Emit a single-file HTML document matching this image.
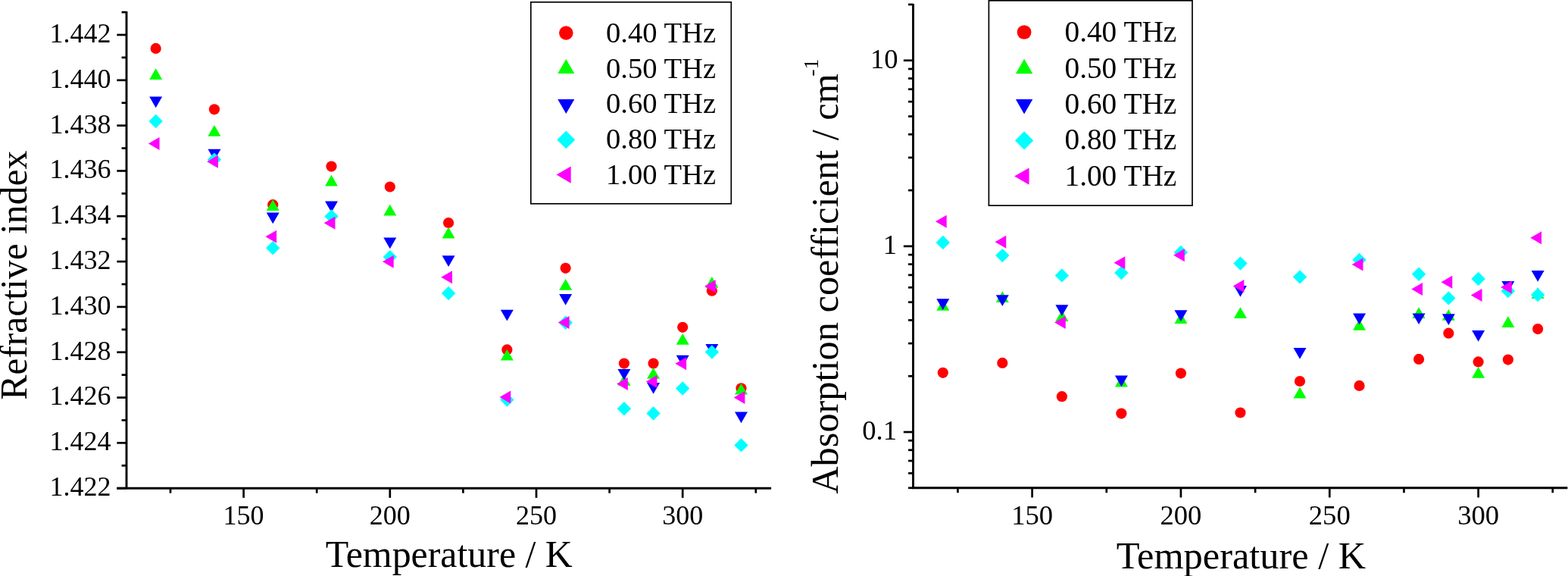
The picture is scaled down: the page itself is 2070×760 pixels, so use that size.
<!DOCTYPE html>
<html><head><meta charset="utf-8"><title>Refractive index and absorption coefficient vs temperature</title>
<style>
html,body{margin:0;padding:0;background:#fff;}
body{width:2070px;height:760px;overflow:hidden;}
svg{display:block;}
text{font-family:"Liberation Serif", "Times New Roman", serif;fill:#000;}
.tk{font-size:36px;}
.tkr{font-size:36.6px;}
.lg{font-size:38.6px;}
.lgr{font-size:39.3px;}
.tt{font-size:49.6px;}
.ttr{font-size:50.4px;}
</style></head>
<body>
<svg width="2070" height="760" viewBox="0 0 2070 760">
<rect width="2070" height="760" fill="#fff"/>
<line x1="167.0" y1="15.100000000000001" x2="167.0" y2="644.2" stroke="#000" stroke-width="2.9"/>
<line x1="154.35000000000002" y1="644.2" x2="1018.1" y2="644.2" stroke="#000" stroke-width="2.9"/>
<line x1="154.35" y1="644.20" x2="167.00" y2="644.20" stroke="#000" stroke-width="2.7"/>
<text x="146.5" y="654.10" text-anchor="end" class="tk">1.422</text>
<line x1="160.55" y1="614.29" x2="167.00" y2="614.29" stroke="#000" stroke-width="2.7"/>
<line x1="154.35" y1="584.38" x2="167.00" y2="584.38" stroke="#000" stroke-width="2.7"/>
<text x="146.5" y="594.28" text-anchor="end" class="tk">1.424</text>
<line x1="160.55" y1="554.47" x2="167.00" y2="554.47" stroke="#000" stroke-width="2.7"/>
<line x1="154.35" y1="524.56" x2="167.00" y2="524.56" stroke="#000" stroke-width="2.7"/>
<text x="146.5" y="534.46" text-anchor="end" class="tk">1.426</text>
<line x1="160.55" y1="494.65" x2="167.00" y2="494.65" stroke="#000" stroke-width="2.7"/>
<line x1="154.35" y1="464.74" x2="167.00" y2="464.74" stroke="#000" stroke-width="2.7"/>
<text x="146.5" y="474.64" text-anchor="end" class="tk">1.428</text>
<line x1="160.55" y1="434.83" x2="167.00" y2="434.83" stroke="#000" stroke-width="2.7"/>
<line x1="154.35" y1="404.92" x2="167.00" y2="404.92" stroke="#000" stroke-width="2.7"/>
<text x="146.5" y="414.82" text-anchor="end" class="tk">1.430</text>
<line x1="160.55" y1="375.01" x2="167.00" y2="375.01" stroke="#000" stroke-width="2.7"/>
<line x1="154.35" y1="345.10" x2="167.00" y2="345.10" stroke="#000" stroke-width="2.7"/>
<text x="146.5" y="355.00" text-anchor="end" class="tk">1.432</text>
<line x1="160.55" y1="315.19" x2="167.00" y2="315.19" stroke="#000" stroke-width="2.7"/>
<line x1="154.35" y1="285.28" x2="167.00" y2="285.28" stroke="#000" stroke-width="2.7"/>
<text x="146.5" y="295.18" text-anchor="end" class="tk">1.434</text>
<line x1="160.55" y1="255.37" x2="167.00" y2="255.37" stroke="#000" stroke-width="2.7"/>
<line x1="154.35" y1="225.46" x2="167.00" y2="225.46" stroke="#000" stroke-width="2.7"/>
<text x="146.5" y="235.36" text-anchor="end" class="tk">1.436</text>
<line x1="160.55" y1="195.55" x2="167.00" y2="195.55" stroke="#000" stroke-width="2.7"/>
<line x1="154.35" y1="165.64" x2="167.00" y2="165.64" stroke="#000" stroke-width="2.7"/>
<text x="146.5" y="175.54" text-anchor="end" class="tk">1.438</text>
<line x1="160.55" y1="135.73" x2="167.00" y2="135.73" stroke="#000" stroke-width="2.7"/>
<line x1="154.35" y1="105.82" x2="167.00" y2="105.82" stroke="#000" stroke-width="2.7"/>
<text x="146.5" y="115.72" text-anchor="end" class="tk">1.440</text>
<line x1="160.55" y1="75.91" x2="167.00" y2="75.91" stroke="#000" stroke-width="2.7"/>
<line x1="154.35" y1="46.00" x2="167.00" y2="46.00" stroke="#000" stroke-width="2.7"/>
<text x="146.5" y="55.90" text-anchor="end" class="tk">1.442</text>
<line x1="160.55" y1="16.09" x2="167.00" y2="16.09" stroke="#000" stroke-width="2.7"/>
<line x1="225.00" y1="644.20" x2="225.00" y2="650.65" stroke="#000" stroke-width="2.7"/>
<line x1="321.60" y1="644.20" x2="321.60" y2="656.85" stroke="#000" stroke-width="2.7"/>
<text x="321.60" y="691.8" text-anchor="middle" class="tk">150</text>
<line x1="418.20" y1="644.20" x2="418.20" y2="650.65" stroke="#000" stroke-width="2.7"/>
<line x1="514.80" y1="644.20" x2="514.80" y2="656.85" stroke="#000" stroke-width="2.7"/>
<text x="514.80" y="691.8" text-anchor="middle" class="tk">200</text>
<line x1="611.40" y1="644.20" x2="611.40" y2="650.65" stroke="#000" stroke-width="2.7"/>
<line x1="708.00" y1="644.20" x2="708.00" y2="656.85" stroke="#000" stroke-width="2.7"/>
<text x="708.00" y="691.8" text-anchor="middle" class="tk">250</text>
<line x1="804.60" y1="644.20" x2="804.60" y2="650.65" stroke="#000" stroke-width="2.7"/>
<line x1="901.20" y1="644.20" x2="901.20" y2="656.85" stroke="#000" stroke-width="2.7"/>
<text x="901.20" y="691.8" text-anchor="middle" class="tk">300</text>
<line x1="997.80" y1="644.20" x2="997.80" y2="650.65" stroke="#000" stroke-width="2.7"/>
<text x="592.8" y="748.3" text-anchor="middle" class="tt" style="font-size:49.9px">Temperature / K</text>
<text transform="translate(35,363.3) rotate(-90)" text-anchor="middle" class="tt">Refractive index</text>
<circle cx="205.68" cy="63.90" r="7.10" fill="#ff0000"/>
<circle cx="282.96" cy="144.30" r="7.10" fill="#ff0000"/>
<circle cx="360.24" cy="270.20" r="7.10" fill="#ff0000"/>
<circle cx="437.52" cy="219.60" r="7.10" fill="#ff0000"/>
<circle cx="514.80" cy="246.50" r="7.10" fill="#ff0000"/>
<circle cx="592.08" cy="294.00" r="7.10" fill="#ff0000"/>
<circle cx="669.36" cy="461.40" r="7.10" fill="#ff0000"/>
<circle cx="746.64" cy="353.80" r="7.10" fill="#ff0000"/>
<circle cx="823.92" cy="479.60" r="7.10" fill="#ff0000"/>
<circle cx="862.56" cy="479.60" r="7.10" fill="#ff0000"/>
<circle cx="901.20" cy="431.80" r="7.10" fill="#ff0000"/>
<circle cx="939.84" cy="383.70" r="7.10" fill="#ff0000"/>
<circle cx="978.48" cy="512.30" r="7.10" fill="#ff0000"/>
<polygon points="205.68,90.30 214.17,105.00 197.19,105.00" fill="#00ff00"/>
<polygon points="282.96,165.00 291.45,179.70 274.47,179.70" fill="#00ff00"/>
<polygon points="360.24,263.40 368.73,278.10 351.75,278.10" fill="#00ff00"/>
<polygon points="437.52,230.80 446.01,245.50 429.03,245.50" fill="#00ff00"/>
<polygon points="514.80,269.80 523.29,284.50 506.31,284.50" fill="#00ff00"/>
<polygon points="592.08,299.80 600.57,314.50 583.59,314.50" fill="#00ff00"/>
<polygon points="669.36,460.90 677.85,475.60 660.87,475.60" fill="#00ff00"/>
<polygon points="746.64,368.00 755.13,382.70 738.15,382.70" fill="#00ff00"/>
<polygon points="823.92,494.00 832.41,508.70 815.43,508.70" fill="#00ff00"/>
<polygon points="862.56,485.10 871.05,499.80 854.07,499.80" fill="#00ff00"/>
<polygon points="901.20,440.10 909.69,454.80 892.71,454.80" fill="#00ff00"/>
<polygon points="939.84,365.10 948.33,379.80 931.35,379.80" fill="#00ff00"/>
<polygon points="978.48,505.90 986.97,520.60 969.99,520.60" fill="#00ff00"/>
<polygon points="205.68,142.30 197.19,127.60 214.17,127.60" fill="#0000ff"/>
<polygon points="282.96,211.50 274.47,196.80 291.45,196.80" fill="#0000ff"/>
<polygon points="360.24,295.20 351.75,280.50 368.73,280.50" fill="#0000ff"/>
<polygon points="437.52,280.20 429.03,265.50 446.01,265.50" fill="#0000ff"/>
<polygon points="514.80,328.20 506.31,313.50 523.29,313.50" fill="#0000ff"/>
<polygon points="592.08,351.90 583.59,337.20 600.57,337.20" fill="#0000ff"/>
<polygon points="669.36,423.40 660.87,408.70 677.85,408.70" fill="#0000ff"/>
<polygon points="746.64,402.70 738.15,388.00 755.13,388.00" fill="#0000ff"/>
<polygon points="823.92,501.60 815.43,486.90 832.41,486.90" fill="#0000ff"/>
<polygon points="862.56,519.70 854.07,505.00 871.05,505.00" fill="#0000ff"/>
<polygon points="901.20,483.40 892.71,468.70 909.69,468.70" fill="#0000ff"/>
<polygon points="939.84,468.60 931.35,453.90 948.33,453.90" fill="#0000ff"/>
<polygon points="978.48,558.20 969.99,543.50 986.97,543.50" fill="#0000ff"/>
<polygon points="205.68,150.80 214.88,160.00 205.68,169.20 196.48,160.00" fill="#00ffff"/>
<polygon points="282.96,201.40 292.16,210.60 282.96,219.80 273.76,210.60" fill="#00ffff"/>
<polygon points="360.24,318.10 369.44,327.30 360.24,336.50 351.04,327.30" fill="#00ffff"/>
<polygon points="437.52,276.30 446.72,285.50 437.52,294.70 428.32,285.50" fill="#00ffff"/>
<polygon points="514.80,329.90 524.00,339.10 514.80,348.30 505.60,339.10" fill="#00ffff"/>
<polygon points="592.08,377.80 601.28,387.00 592.08,396.20 582.88,387.00" fill="#00ffff"/>
<polygon points="669.36,518.40 678.56,527.60 669.36,536.80 660.16,527.60" fill="#00ffff"/>
<polygon points="746.64,416.50 755.84,425.70 746.64,434.90 737.44,425.70" fill="#00ffff"/>
<polygon points="823.92,530.00 833.12,539.20 823.92,548.40 814.72,539.20" fill="#00ffff"/>
<polygon points="862.56,536.30 871.76,545.50 862.56,554.70 853.36,545.50" fill="#00ffff"/>
<polygon points="901.20,503.30 910.40,512.50 901.20,521.70 892.00,512.50" fill="#00ffff"/>
<polygon points="939.84,455.30 949.04,464.50 939.84,473.70 930.64,464.50" fill="#00ffff"/>
<polygon points="978.48,578.20 987.68,587.40 978.48,596.60 969.28,587.40" fill="#00ffff"/>
<polygon points="195.88,189.40 210.58,180.91 210.58,197.89" fill="#ff00ff"/>
<polygon points="273.16,213.20 287.86,204.71 287.86,221.69" fill="#ff00ff"/>
<polygon points="350.44,312.20 365.14,303.71 365.14,320.69" fill="#ff00ff"/>
<polygon points="427.72,294.30 442.42,285.81 442.42,302.79" fill="#ff00ff"/>
<polygon points="505.00,345.20 519.70,336.71 519.70,353.69" fill="#ff00ff"/>
<polygon points="582.28,365.80 596.98,357.31 596.98,374.29" fill="#ff00ff"/>
<polygon points="659.56,524.10 674.26,515.61 674.26,532.59" fill="#ff00ff"/>
<polygon points="736.84,425.50 751.54,417.01 751.54,433.99" fill="#ff00ff"/>
<polygon points="814.12,506.40 828.82,497.91 828.82,514.89" fill="#ff00ff"/>
<polygon points="852.76,503.60 867.46,495.11 867.46,512.09" fill="#ff00ff"/>
<polygon points="891.40,479.70 906.10,471.21 906.10,488.19" fill="#ff00ff"/>
<polygon points="930.04,377.80 944.74,369.31 944.74,386.29" fill="#ff00ff"/>
<polygon points="968.68,524.50 983.38,516.01 983.38,532.99" fill="#ff00ff"/>
<rect x="700.8" y="2.8" width="264.5" height="266" fill="none" stroke="#000" stroke-width="1.7"/>
<circle cx="747.30" cy="43.50" r="9.23" fill="#ff0000"/>
<text x="800" y="55.90" class="lg">0.40 THz</text>
<polygon points="747.30,78.01 758.33,97.12 736.27,97.12" fill="#00ff00"/>
<text x="800" y="102.65" class="lg">0.50 THz</text>
<polygon points="747.30,150.04 736.27,130.93 758.33,130.93" fill="#0000ff"/>
<text x="800" y="149.40" class="lg">0.60 THz</text>
<polygon points="747.30,172.44 759.26,184.40 747.30,196.36 735.34,184.40" fill="#00ffff"/>
<text x="800" y="196.15" class="lg">0.80 THz</text>
<polygon points="734.56,230.60 753.67,219.57 753.67,241.63" fill="#ff00ff"/>
<text x="800" y="242.90" class="lg">1.00 THz</text>
<line x1="1205.5" y1="5.05" x2="1205.5" y2="643.8" stroke="#000" stroke-width="2.9"/>
<line x1="1204.05" y1="643.8" x2="2069.4" y2="643.8" stroke="#000" stroke-width="2.9"/>
<line x1="1199.05" y1="643.80" x2="1205.50" y2="643.80" stroke="#000" stroke-width="2.7"/>
<line x1="1199.05" y1="624.44" x2="1205.50" y2="624.44" stroke="#000" stroke-width="2.7"/>
<line x1="1199.05" y1="608.02" x2="1205.50" y2="608.02" stroke="#000" stroke-width="2.7"/>
<line x1="1199.05" y1="593.81" x2="1205.50" y2="593.81" stroke="#000" stroke-width="2.7"/>
<line x1="1199.05" y1="581.27" x2="1205.50" y2="581.27" stroke="#000" stroke-width="2.7"/>
<line x1="1192.85" y1="570.05" x2="1205.50" y2="570.05" stroke="#000" stroke-width="2.7"/>
<text x="1184.0" y="580.05" text-anchor="end" class="tkr">0.1</text>
<line x1="1199.05" y1="496.25" x2="1205.50" y2="496.25" stroke="#000" stroke-width="2.7"/>
<line x1="1199.05" y1="453.08" x2="1205.50" y2="453.08" stroke="#000" stroke-width="2.7"/>
<line x1="1199.05" y1="422.45" x2="1205.50" y2="422.45" stroke="#000" stroke-width="2.7"/>
<line x1="1199.05" y1="398.70" x2="1205.50" y2="398.70" stroke="#000" stroke-width="2.7"/>
<line x1="1199.05" y1="379.29" x2="1205.50" y2="379.29" stroke="#000" stroke-width="2.7"/>
<line x1="1199.05" y1="362.87" x2="1205.50" y2="362.87" stroke="#000" stroke-width="2.7"/>
<line x1="1199.05" y1="348.66" x2="1205.50" y2="348.66" stroke="#000" stroke-width="2.7"/>
<line x1="1199.05" y1="336.12" x2="1205.50" y2="336.12" stroke="#000" stroke-width="2.7"/>
<line x1="1192.85" y1="324.90" x2="1205.50" y2="324.90" stroke="#000" stroke-width="2.7"/>
<text x="1184.0" y="334.90" text-anchor="end" class="tkr">1</text>
<line x1="1199.05" y1="251.10" x2="1205.50" y2="251.10" stroke="#000" stroke-width="2.7"/>
<line x1="1199.05" y1="207.93" x2="1205.50" y2="207.93" stroke="#000" stroke-width="2.7"/>
<line x1="1199.05" y1="177.30" x2="1205.50" y2="177.30" stroke="#000" stroke-width="2.7"/>
<line x1="1199.05" y1="153.55" x2="1205.50" y2="153.55" stroke="#000" stroke-width="2.7"/>
<line x1="1199.05" y1="134.14" x2="1205.50" y2="134.14" stroke="#000" stroke-width="2.7"/>
<line x1="1199.05" y1="117.72" x2="1205.50" y2="117.72" stroke="#000" stroke-width="2.7"/>
<line x1="1199.05" y1="103.51" x2="1205.50" y2="103.51" stroke="#000" stroke-width="2.7"/>
<line x1="1199.05" y1="90.97" x2="1205.50" y2="90.97" stroke="#000" stroke-width="2.7"/>
<line x1="1192.85" y1="79.75" x2="1205.50" y2="79.75" stroke="#000" stroke-width="2.7"/>
<text x="1185.5" y="89.75" text-anchor="end" class="tkr">10</text>
<line x1="1199.05" y1="5.95" x2="1205.50" y2="5.95" stroke="#000" stroke-width="2.7"/>
<line x1="1264.43" y1="643.80" x2="1264.43" y2="650.25" stroke="#000" stroke-width="2.7"/>
<line x1="1362.60" y1="643.80" x2="1362.60" y2="656.45" stroke="#000" stroke-width="2.7"/>
<text x="1362.60" y="691.5" text-anchor="middle" class="tkr">150</text>
<line x1="1460.77" y1="643.80" x2="1460.77" y2="650.25" stroke="#000" stroke-width="2.7"/>
<line x1="1558.93" y1="643.80" x2="1558.93" y2="656.45" stroke="#000" stroke-width="2.7"/>
<text x="1558.93" y="691.5" text-anchor="middle" class="tkr">200</text>
<line x1="1657.10" y1="643.80" x2="1657.10" y2="650.25" stroke="#000" stroke-width="2.7"/>
<line x1="1755.27" y1="643.80" x2="1755.27" y2="656.45" stroke="#000" stroke-width="2.7"/>
<text x="1755.27" y="691.5" text-anchor="middle" class="tkr">250</text>
<line x1="1853.44" y1="643.80" x2="1853.44" y2="650.25" stroke="#000" stroke-width="2.7"/>
<line x1="1951.61" y1="643.80" x2="1951.61" y2="656.45" stroke="#000" stroke-width="2.7"/>
<text x="1951.61" y="691.5" text-anchor="middle" class="tkr">300</text>
<line x1="2049.77" y1="643.80" x2="2049.77" y2="650.25" stroke="#000" stroke-width="2.7"/>
<text x="1638.5" y="749.6" text-anchor="middle" class="ttr">Temperature / K</text>
<text transform="translate(1106.3,364.6) rotate(-90)" text-anchor="middle" class="ttr">Absorption coefficient / cm<tspan dx="-3.5" dy="-26" font-size="28">-1</tspan></text>
<circle cx="1244.80" cy="491.80" r="7.10" fill="#ff0000"/>
<circle cx="1323.33" cy="478.90" r="7.10" fill="#ff0000"/>
<circle cx="1401.87" cy="523.20" r="7.10" fill="#ff0000"/>
<circle cx="1480.40" cy="545.60" r="7.10" fill="#ff0000"/>
<circle cx="1558.93" cy="492.60" r="7.10" fill="#ff0000"/>
<circle cx="1637.47" cy="544.50" r="7.10" fill="#ff0000"/>
<circle cx="1716.00" cy="503.00" r="7.10" fill="#ff0000"/>
<circle cx="1794.54" cy="508.90" r="7.10" fill="#ff0000"/>
<circle cx="1873.07" cy="473.90" r="7.10" fill="#ff0000"/>
<circle cx="1912.34" cy="439.70" r="7.10" fill="#ff0000"/>
<circle cx="1951.61" cy="477.40" r="7.10" fill="#ff0000"/>
<circle cx="1990.87" cy="474.60" r="7.10" fill="#ff0000"/>
<circle cx="2030.14" cy="434.10" r="7.10" fill="#ff0000"/>
<polygon points="1244.80,395.10 1253.29,409.80 1236.31,409.80" fill="#00ff00"/>
<polygon points="1323.33,384.20 1331.82,398.90 1314.85,398.90" fill="#00ff00"/>
<polygon points="1401.87,409.20 1410.35,423.90 1393.38,423.90" fill="#00ff00"/>
<polygon points="1480.40,495.80 1488.89,510.50 1471.91,510.50" fill="#00ff00"/>
<polygon points="1558.93,412.20 1567.42,426.90 1550.45,426.90" fill="#00ff00"/>
<polygon points="1637.47,405.30 1645.96,420.00 1628.98,420.00" fill="#00ff00"/>
<polygon points="1716.00,510.80 1724.49,525.50 1707.52,525.50" fill="#00ff00"/>
<polygon points="1794.54,421.10 1803.02,435.80 1786.05,435.80" fill="#00ff00"/>
<polygon points="1873.07,405.20 1881.56,419.90 1864.58,419.90" fill="#00ff00"/>
<polygon points="1912.34,408.10 1920.83,422.80 1903.85,422.80" fill="#00ff00"/>
<polygon points="1951.61,484.00 1960.09,498.70 1943.12,498.70" fill="#00ff00"/>
<polygon points="1990.87,417.20 1999.36,431.90 1982.38,431.90" fill="#00ff00"/>
<polygon points="2030.14,379.30 2038.63,394.00 2021.65,394.00" fill="#00ff00"/>
<polygon points="1244.80,408.90 1236.31,394.20 1253.29,394.20" fill="#0000ff"/>
<polygon points="1323.33,403.90 1314.85,389.20 1331.82,389.20" fill="#0000ff"/>
<polygon points="1401.87,416.90 1393.38,402.20 1410.35,402.20" fill="#0000ff"/>
<polygon points="1480.40,510.20 1471.91,495.50 1488.89,495.50" fill="#0000ff"/>
<polygon points="1558.93,423.90 1550.45,409.20 1567.42,409.20" fill="#0000ff"/>
<polygon points="1637.47,391.80 1628.98,377.10 1645.96,377.10" fill="#0000ff"/>
<polygon points="1716.00,473.80 1707.52,459.10 1724.49,459.10" fill="#0000ff"/>
<polygon points="1794.54,428.30 1786.05,413.60 1803.02,413.60" fill="#0000ff"/>
<polygon points="1873.07,428.10 1864.58,413.40 1881.56,413.40" fill="#0000ff"/>
<polygon points="1912.34,429.00 1903.85,414.30 1920.83,414.30" fill="#0000ff"/>
<polygon points="1951.61,450.70 1943.12,436.00 1960.09,436.00" fill="#0000ff"/>
<polygon points="1990.87,385.60 1982.38,370.90 1999.36,370.90" fill="#0000ff"/>
<polygon points="2030.14,371.80 2021.65,357.10 2038.63,357.10" fill="#0000ff"/>
<polygon points="1244.80,310.80 1254.00,320.00 1244.80,329.20 1235.60,320.00" fill="#00ffff"/>
<polygon points="1323.33,327.90 1332.53,337.10 1323.33,346.30 1314.13,337.10" fill="#00ffff"/>
<polygon points="1401.87,354.20 1411.07,363.40 1401.87,372.60 1392.67,363.40" fill="#00ffff"/>
<polygon points="1480.40,350.80 1489.60,360.00 1480.40,369.20 1471.20,360.00" fill="#00ffff"/>
<polygon points="1558.93,323.70 1568.13,332.90 1558.93,342.10 1549.73,332.90" fill="#00ffff"/>
<polygon points="1637.47,338.40 1646.67,347.60 1637.47,356.80 1628.27,347.60" fill="#00ffff"/>
<polygon points="1716.00,356.20 1725.20,365.40 1716.00,374.60 1706.80,365.40" fill="#00ffff"/>
<polygon points="1794.54,333.70 1803.74,342.90 1794.54,352.10 1785.34,342.90" fill="#00ffff"/>
<polygon points="1873.07,352.60 1882.27,361.80 1873.07,371.00 1863.87,361.80" fill="#00ffff"/>
<polygon points="1912.34,384.20 1921.54,393.40 1912.34,402.60 1903.14,393.40" fill="#00ffff"/>
<polygon points="1951.61,358.80 1960.81,368.00 1951.61,377.20 1942.40,368.00" fill="#00ffff"/>
<polygon points="1990.87,374.80 2000.07,384.00 1990.87,393.20 1981.67,384.00" fill="#00ffff"/>
<polygon points="2030.14,379.90 2039.34,389.10 2030.14,398.30 2020.94,389.10" fill="#00ffff"/>
<polygon points="1235.00,292.20 1249.70,283.71 1249.70,300.69" fill="#ff00ff"/>
<polygon points="1313.53,319.20 1328.23,310.71 1328.23,327.69" fill="#ff00ff"/>
<polygon points="1392.07,425.50 1406.77,417.01 1406.77,433.99" fill="#ff00ff"/>
<polygon points="1470.60,346.80 1485.30,338.31 1485.30,355.29" fill="#ff00ff"/>
<polygon points="1549.13,336.70 1563.84,328.21 1563.84,345.19" fill="#ff00ff"/>
<polygon points="1627.67,377.60 1642.37,369.11 1642.37,386.09" fill="#ff00ff"/>
<polygon points="1784.74,348.90 1799.44,340.41 1799.44,357.39" fill="#ff00ff"/>
<polygon points="1863.27,381.40 1877.97,372.91 1877.97,389.89" fill="#ff00ff"/>
<polygon points="1902.54,372.20 1917.24,363.71 1917.24,380.69" fill="#ff00ff"/>
<polygon points="1941.81,389.50 1956.51,381.01 1956.51,397.99" fill="#ff00ff"/>
<polygon points="1981.07,379.10 1995.77,370.61 1995.77,387.59" fill="#ff00ff"/>
<polygon points="2020.34,313.80 2035.04,305.31 2035.04,322.29" fill="#ff00ff"/>
<rect x="1305.4" y="0.8" width="268.6" height="270.4" fill="none" stroke="#000" stroke-width="1.7"/>
<circle cx="1352.10" cy="42.50" r="9.37" fill="#ff0000"/>
<text x="1405.5" y="55.20" class="lgr">0.40 THz</text>
<polygon points="1352.10,77.76 1363.30,97.17 1340.90,97.17" fill="#00ff00"/>
<text x="1405.5" y="102.60" class="lgr">0.50 THz</text>
<polygon points="1352.10,150.44 1340.90,131.03 1363.30,131.03" fill="#0000ff"/>
<text x="1405.5" y="150.00" class="lgr">0.60 THz</text>
<polygon points="1352.10,173.26 1364.24,185.40 1352.10,197.54 1339.96,185.40" fill="#00ffff"/>
<text x="1405.5" y="197.40" class="lgr">0.80 THz</text>
<polygon points="1339.16,232.60 1358.57,221.40 1358.57,243.80" fill="#ff00ff"/>
<text x="1405.5" y="244.80" class="lgr">1.00 THz</text>
</svg>
</body></html>
